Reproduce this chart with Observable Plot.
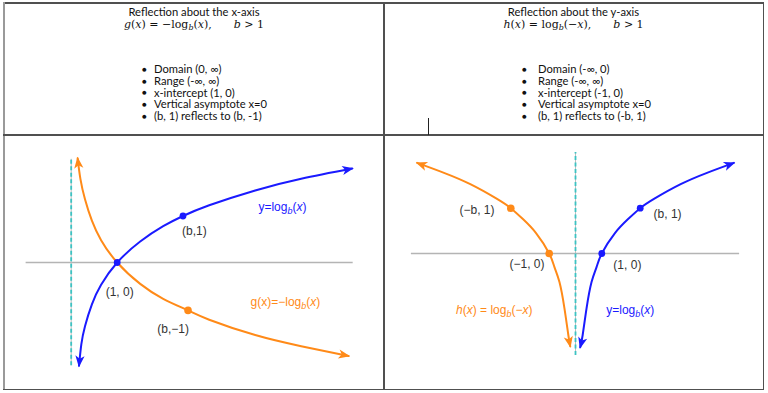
<!DOCTYPE html>
<html><head><meta charset="utf-8">
<script src="https://cdn.jsdelivr.net/npm/d3@7"></script>
<script src="https://cdn.jsdelivr.net/npm/@observablehq/plot@0.6"></script>
<style>
body{margin:0;background:#fff}
#page{position:relative;width:768px;height:393px;background:#fff;overflow:hidden;font-family:Lato,"Liberation Sans",Arial,sans-serif;color:#111}
.ln{position:absolute;background:#505050}
.cell{position:absolute;top:0;height:134px}
.title{position:absolute;top:5px;left:0;right:0;text-align:center;font-size:11.2px;line-height:13px}
.math{position:absolute;top:17px;left:0;right:0;text-align:center;font-family:"DejaVu Serif",serif;font-size:11px;line-height:15px;color:#111}
.math i{font-style:italic}
.math sub{font-size:8px;font-style:italic;vertical-align:-2px;line-height:0}
.bul{position:absolute;top:63.3px;font-size:11.2px;line-height:11.7px}
.bul div{position:relative;white-space:nowrap}
.bul .dot{position:absolute;font-size:8px;top:0.5px}
</style></head>
<body><div id="page"></div>
<script>
// ---------- data ----------
const leftTitle = "Reflection about the x-axis";
const rightTitle = "Reflection about the y-axis";
const leftBullets = ["Domain (0, \u221E)", "Range (-\u221E, \u221E)", "x-intercept (1, 0)", "Vertical asymptote x=0", "(b, 1) reflects to (b, -1)"];
const rightBullets = ["Domain (-\u221E, 0)", "Range (-\u221E, \u221E)", "x-intercept (-1, 0)", "Vertical asymptote x=0", "(b, 1) reflects to (-b, 1)"];

// left panel: y = log_b(x) and g(x) = -log_b(x)
const leftBlueX = [0.17, 0.22, 0.3, 0.45, 0.65, 1, 1.5, 2, 2.43, 3, 4, 5, 6.11];
const leftBlueY = [-2.22, -1.76, -1.37, -0.9, -0.48, 0, 0.45, 0.78, 1, 1.23, 1.55, 1.8, 2.02];
const leftOrangeX = [0.14, 0.2, 0.3, 0.45, 0.65, 1, 1.5, 2, 2.54, 3, 4, 5, 6.03];
const leftOrangeY = [2.24, 1.8, 1.36, 0.9, 0.48, 0, -0.46, -0.78, -1.03, -1.23, -1.56, -1.8, -2.01];
const leftAxisX = [-0.98, 6.13];
const leftAsymY = [-2.22, 2.22];
const leftBlueDotsX = [1, 2.43], leftBlueDotsY = [0, 1];
const leftOrangeDotsX = [2.54], leftOrangeDotsY = [-1.03];
const leftLabels = ["y=log_b({x})", "(b,1)", "(1, 0)", "g(x)=\u2212log_b({x})", "(b,\u22121)"];
const leftLabelX = [4.07, 2.41, 0.75, 3.9, 1.87];
const leftLabelY = [1.19, 0.67, -0.64, -0.86, -1.43];
const leftLabelKind = ["blue", "dark", "dark", "orange", "dark"];

// right panel: h(x) = log_b(-x) and y = log_b(x)
const rightOrangeX = [-6.02, -5, -4, -3, -2.46, -2, -1.5, -1, -0.8, -0.61, -0.42, -0.27, -0.2];
const rightOrangeY = [2.0, 1.78, 1.53, 1.21, 1, 0.76, 0.45, 0, -0.3, -0.63, -1.21, -1.81, -2.05];
const rightBlueX = [0.18, 0.27, 0.42, 0.61, 0.8, 1, 1.5, 2, 2.46, 3, 4, 5, 6.02];
const rightBlueY = [-2.07, -1.81, -1.21, -0.63, -0.3, 0, 0.45, 0.76, 1, 1.21, 1.53, 1.78, 2.0];
const rightAxisX = [-6.24, 6.24];
const rightAsymY = [-2.25, 2.23];
const rightBlueDotsX = [1, 2.46], rightBlueDotsY = [0, 1];
const rightOrangeDotsX = [-2.46, -1], rightOrangeDotsY = [1, 0];
const rightLabels = ["(\u2212b, 1)", "(b, 1)", "(\u22121, 0)", "(1, 0)", "{h}({x}) = log_b(\u2212{x})", "y=log_b({x})"];
const rightLabelX = [-4.41, 2.97, -2.51, 1.44, -4.54, 1.17];
const rightLabelY = [0.95, 0.86, -0.24, -0.265, -1.24, -1.24];
const rightLabelKind = ["dark", "dark", "dark", "dark", "orange", "blue"];

// ---------- styles ----------
const BLUE = "#1a1aff", ORANGE = "#ff8a18", DARK = "#333", CYAN = "#3cc3c3";
const kindColor = {blue: BLUE, orange: ORANGE, dark: DARK};

const page = document.getElementById("page");
function line(l, t, w, h, c) {
  const d = document.createElement("div"); d.className = "ln";
  Object.assign(d.style, {left: l + "px", top: t + "px", width: w + "px", height: h + "px"});
  if (c) d.style.background = c;
  page.appendChild(d);
}
// table borders
line(3, 2, 761, 1.5);
line(3, 2, 2, 388, "#9a9a9a");
line(383, 2, 2, 388);
line(762.5, 2, 1.5, 388);
line(3, 134, 761, 1.5);
line(3, 388.5, 761, 1.5);
// text cursor
line(428, 118, 1, 17, "#222");

function topCell(left, width, title, mathHTML, bullets, bulLeft, gap) {
  const c = document.createElement("div"); c.className = "cell";
  c.style.left = left + "px"; c.style.width = width + "px";
  c.innerHTML = `<div class="title">${title}</div><div class="math">${mathHTML}</div>`;
  const b = document.createElement("div"); b.className = "bul";
  b.style.left = (bulLeft - left) + "px";
  bullets.forEach(t => {
    const r = document.createElement("div");
    r.innerHTML = `<span class="dot" style="left:${-gap}px">\u25CF</span>`;
    r.appendChild(document.createTextNode(t));
    b.appendChild(r);
  });
  c.appendChild(b);
  page.appendChild(c);
}
topCell(4, 380, leftTitle,
  `<i>g</i>(<i>x</i>) = \u2212log<sub>b</sub>(<i>x</i>),<span style="display:inline-block;width:22px"></span><i>b</i> &gt; 1`,
  leftBullets, 154, 12);
topCell(384, 379, rightTitle,
  `<i>h</i>(<i>x</i>) = log<sub>b</sub>(\u2212<i>x</i>),<span style="display:inline-block;width:22px"></span><i>b</i> &gt; 1`,
  rightBullets, 538, 16);

// arrowhead marker
function arrowHead(color) {
  const ns = "http://www.w3.org/2000/svg";
  const m = document.createElementNS(ns, "marker");
  m.setAttribute("viewBox", "-12 -6 14 12");
  m.setAttribute("markerWidth", 14);
  m.setAttribute("markerHeight", 12);
  m.setAttribute("markerUnits", "userSpaceOnUse");
  m.setAttribute("orient", "auto-start-reverse");
  m.setAttribute("refX", 0); m.setAttribute("refY", 0);
  m.setAttribute("overflow", "visible");
  const p = document.createElementNS(ns, "path");
  p.setAttribute("d", "M1.5,0L-10,-4.6L-7,0L-10,4.6Z");
  p.setAttribute("fill", color); p.setAttribute("stroke", "none");
  m.appendChild(p);
  return m;
}

const zip = (xs, ys) => xs.map((x, i) => ({x, y: ys[i]}));
const labelData = (t, xs, ys, ks) => t.map((s, i) => ({t: s, x: xs[i], y: ys[i], k: ks[i]}));

function richify(svg) {
  svg.querySelectorAll("text").forEach(el => {
    const s = el.textContent;
    if (!/_b|\{/.test(s)) return;
    el.textContent = "";
    const ns = "http://www.w3.org/2000/svg";
    let pendingDy = 0;
    s.split(/(_b|\{[^}]*\})/).forEach(part => {
      if (!part) return;
      const ts = document.createElementNS(ns, "tspan");
      if (part === "_b") {
        ts.textContent = "b"; ts.setAttribute("font-style", "italic");
        ts.setAttribute("font-size", "9"); ts.setAttribute("dy", "3");
        pendingDy = -3;
      } else {
        if (part[0] === "{") { ts.textContent = part.slice(1, -1); ts.setAttribute("font-style", "italic"); }
        else ts.textContent = part;
        if (pendingDy) { ts.setAttribute("dy", pendingDy); pendingDy = 0; }
      }
      el.appendChild(ts);
    });
  });
}

function panel(opts, useMarker) {
  const mk = useMarker ? arrowHead : "arrow";
  const marks = [
    Plot.ruleY([0], {x1: opts.axisX[0], x2: opts.axisX[1], stroke: "#b4b4b4", strokeWidth: 1.3}),
    Plot.ruleX([0], {y1: opts.asymY[0], y2: opts.asymY[1], stroke: "#bdbdbd", strokeWidth: 1}),
    Plot.ruleX([0], {y1: opts.asymY[0], y2: opts.asymY[1], stroke: CYAN, strokeWidth: 1.8, strokeDasharray: "4,2.5"}),
    Plot.line(opts.orange, {x: "x", y: "y", stroke: ORANGE, strokeWidth: 2, curve: "natural", markerStart: mk, markerEnd: mk}),
    Plot.line(opts.blue, {x: "x", y: "y", stroke: BLUE, strokeWidth: 2, curve: "natural", markerStart: mk, markerEnd: mk}),
    Plot.dot(opts.orangeDots, {x: "x", y: "y", r: 3.8, fill: ORANGE}),
    Plot.dot(opts.blueDots, {x: "x", y: "y", r: 3.4, fill: BLUE}),
    Plot.text(opts.labels, {x: "x", y: "y", text: "t", textAnchor: "start", fill: d => kindColor[d.k],
      fontSize: 12, fontFamily: "Liberation Sans, Arial, sans-serif"})
  ];
  return Plot.plot({
    width: opts.width, height: 252, margin: 0,
    style: {background: "transparent", overflow: "visible"},
    x: {domain: opts.xDomain, range: opts.xRange, axis: null},
    y: {domain: [-2.5, 2.5], range: opts.yRange, axis: null},
    marks
  });
}

const leftOpts = {
  width: 378, xDomain: [-1, 6.5], xRange: [19.7, 364.7], yRange: [242.25, 9.75],
  axisX: leftAxisX, asymY: leftAsymY,
  blue: zip(leftBlueX, leftBlueY), orange: zip(leftOrangeX, leftOrangeY),
  blueDots: zip(leftBlueDotsX, leftBlueDotsY), orangeDots: zip(leftOrangeDotsX, leftOrangeDotsY),
  labels: labelData(leftLabels, leftLabelX, leftLabelY, leftLabelKind)
};
const rightOpts = {
  width: 377, xDomain: [-6.5, 6.5], xRange: [19.05, 360.95], yRange: [230.25, 3.75],
  axisX: rightAxisX, asymY: rightAsymY,
  blue: zip(rightBlueX, rightBlueY), orange: zip(rightOrangeX, rightOrangeY),
  blueDots: zip(rightBlueDotsX, rightBlueDotsY), orangeDots: zip(rightOrangeDotsX, rightOrangeDotsY),
  labels: labelData(rightLabels, rightLabelX, rightLabelY, rightLabelKind)
};

function make(opts) {
  let svg;
  try { svg = panel(opts, true); } catch (e) { svg = panel(opts, false); }
  richify(svg);
  return svg;
}
const lp = make(leftOpts); lp.style.position = "absolute"; lp.style.left = "5px"; lp.style.top = "136px";
const rp = make(rightOpts); rp.style.position = "absolute"; rp.style.left = "385px"; rp.style.top = "136px";
page.appendChild(lp); page.appendChild(rp);
</script>
</body></html>
